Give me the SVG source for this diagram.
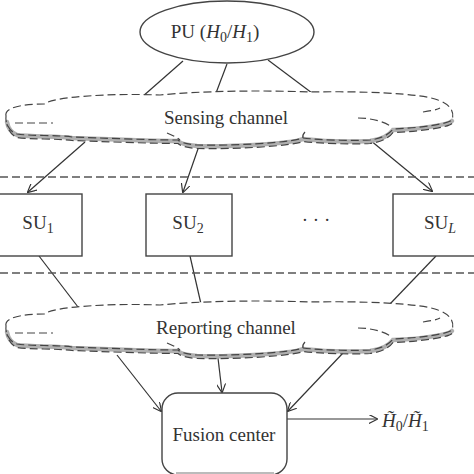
<svg xmlns="http://www.w3.org/2000/svg" width="474" height="474" viewBox="0 0 474 474">
<style>
text{font-family:"Liberation Serif","Times New Roman",serif;font-size:19px;fill:#333}
.node{fill:#fff;stroke:#444;stroke-width:1.4}
.conn{stroke:#333;stroke-width:1.2;fill:none}
.sep{stroke:#555;stroke-width:1.5;stroke-dasharray:8,4;fill:none}
.cl{stroke:#444;stroke-width:1.2;stroke-dasharray:8,4;fill:none}
.shade{stroke:#b0b0b0;stroke-width:4.5;fill:none;stroke-linecap:round}
.sub{font-size:14px}
</style>
<defs>
<marker id="arr" viewBox="0 0 10 10" refX="9" refY="5" markerWidth="9" markerHeight="9" orient="auto" markerUnits="userSpaceOnUse">
<path d="M0,0 L10,5 L0,10" fill="none" stroke="#333" stroke-width="1.3"/>
</marker>
<g id="cloud">
<path d="M6,116 C4,108 20,104 45,104 C50,97 110,93 160,95 C200,91 260,90 310,92 C360,91 420,93 438,100 C450,104 455,112 452,120 C448,124 420,128 393,129 C388,136 378,139 370,140 C350,141 320,140 303,138 C290,143 230,146 197,145 C185,144 180,142 178,140 C150,140 100,138 72,137 C60,135 30,136 17,134 C10,132 5,124 6,116 Z" fill="#fff" stroke="none"/>
<path class="shade" d="M452,121 C448,125 420,129 393,130 C388,137 378,140 370,141 C350,142 320,141 303,139 C290,144 230,147 197,146 C185,145 180,143 178,141 C150,141 100,139 72,138 C60,136 30,137 17,135 C12,133 8,128 7,122"/>
<path class="cl" d="M452,123.5 C448,127.5 420,131.5 393,132.5 C388,139.5 378,142.5 370,143.5 C350,144.5 320,143.5 303,141.5 C290,146.5 230,149.5 197,148.5 C185,147.5 180,145.5 178,143.5 C150,143.5 100,141.5 72,140.5 C60,138.5 30,139.5 17,137.5 C12,135.5 8,130 7,124"/>
<path class="cl" d="M6,116 C4,108 20,104 45,104 C50,97 110,93 160,95 C200,91 260,90 310,92 C360,91 420,93 438,100 C450,104 455,112 452,120 C448,124 420,128 393,129 C388,136 378,139 370,140 C350,141 320,140 303,138 C290,143 230,146 197,145 C185,144 180,142 178,140 C150,140 100,138 72,137 C60,135 30,136 17,134 C10,132 5,124 6,116 Z"/>
<path class="cl" d="M15,123 L53,123"/>
<path class="cl" d="M358,118 C372,118 385,122 392,127"/>
<path class="cl" d="M423,112 C430,111 436,110 440,108"/>
<path class="cl" d="M167,133 C172,135 176,137 180,140"/>
<path class="cl" d="M303,138 C302,135 304,133 305,132"/>
</g>
</defs>

<g id="connectors">
<line class="conn" x1="183" y1="61" x2="142" y2="97"/>
<line class="conn" x1="227" y1="64" x2="216" y2="93"/>
<line class="conn" x1="268" y1="60" x2="312" y2="93"/>
<line class="conn" x1="85" y1="142" x2="28" y2="192" marker-end="url(#arr)"/>
<line class="conn" x1="199" y1="146" x2="183" y2="192" marker-end="url(#arr)"/>
<line class="conn" x1="370" y1="140" x2="432" y2="191" marker-end="url(#arr)"/>
<line class="conn" x1="39" y1="256" x2="78" y2="307"/>
<line class="conn" x1="190" y1="256" x2="201" y2="304"/>
<line class="conn" x1="436" y1="256" x2="389" y2="305"/>
<line class="conn" x1="117" y1="355" x2="161" y2="411" marker-end="url(#arr)"/>
<line class="conn" x1="218" y1="358" x2="222" y2="392" marker-end="url(#arr)"/>
<line class="conn" x1="343" y1="353" x2="288" y2="411" marker-end="url(#arr)"/>
<line class="conn" x1="287" y1="419" x2="377" y2="419" marker-end="url(#arr)"/>
</g>

<g id="separators">
<line class="sep" x1="0" y1="177" x2="474" y2="177"/>
<line class="sep" x1="0" y1="273" x2="474" y2="273"/>
</g>

<g id="pu">
<ellipse class="node" cx="227" cy="32" rx="87" ry="31"/>
<text x="215" y="38" text-anchor="middle">PU (<tspan font-style="italic">H</tspan><tspan class="sub" dy="4">0</tspan><tspan dy="-4">/</tspan><tspan font-style="italic">H</tspan><tspan class="sub" dy="4">1</tspan><tspan dy="-4">)</tspan></text>
</g>

<g id="sensing-channel">
<use href="#cloud"/>
<text x="226" y="124" text-anchor="middle">Sensing channel</text>
</g>

<g id="su1">
<rect class="node" x="-2" y="194" width="84" height="62"/>
<text x="38" y="229" text-anchor="middle">SU<tspan class="sub" dy="4">1</tspan></text>
</g>
<g id="su2">
<rect class="node" x="146" y="194" width="86" height="62"/>
<text x="188" y="229" text-anchor="middle">SU<tspan class="sub" dy="4">2</tspan></text>
</g>
<g id="dots">
<text x="316" y="226" text-anchor="middle">· · ·</text>
</g>
<g id="suL">
<rect class="node" x="393" y="194" width="86" height="62"/>
<text x="440" y="229" text-anchor="middle">SU<tspan class="sub" dy="4" font-style="italic">L</tspan></text>
</g>

<g id="reporting-channel">
<use href="#cloud" y="210"/>
<text x="226" y="334" text-anchor="middle">Reporting channel</text>
</g>

<g id="fusion">
<rect class="node" x="162" y="393" width="125" height="82" rx="16"/>
<line x1="176" y1="473" x2="274" y2="473" stroke="#bbb" stroke-width="2"/>
<text x="224" y="441" text-anchor="middle">Fusion center</text>
</g>

<g id="output">
<text x="382" y="427" font-style="italic">H̃<tspan class="sub" dy="4" font-style="normal">0</tspan><tspan dy="-4" font-style="normal">/</tspan>H̃<tspan class="sub" dy="4" font-style="normal">1</tspan></text>
</g>
</svg>
